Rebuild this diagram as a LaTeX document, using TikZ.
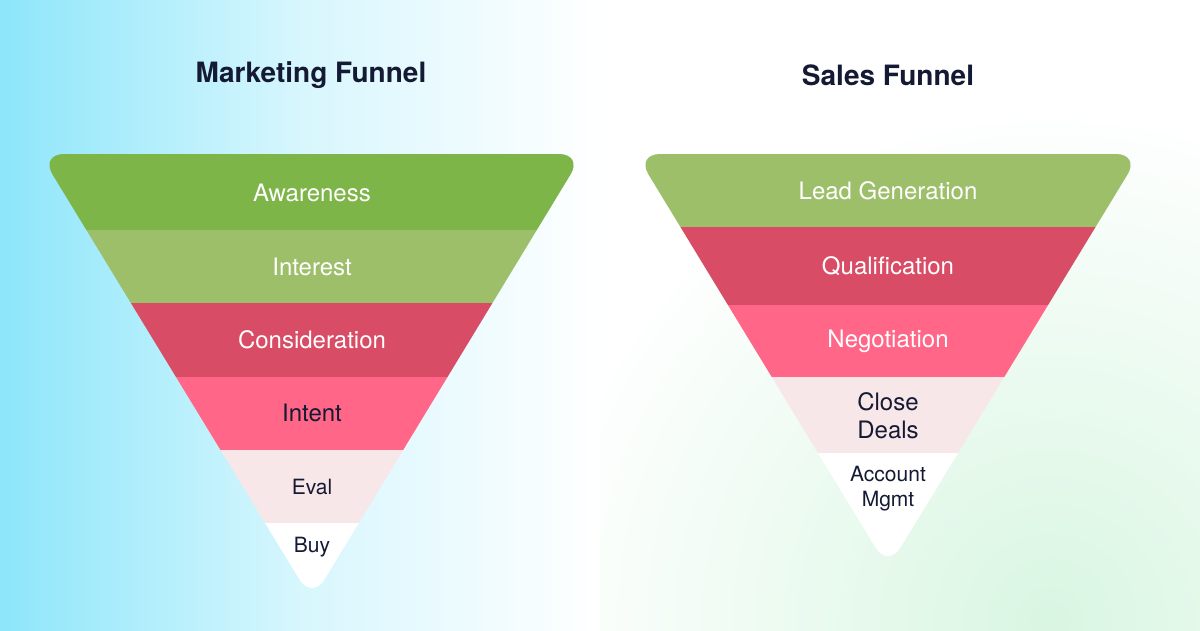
\documentclass[tikz,border=0pt]{standalone}
\usepackage{fontspec}
\setmainfont{TeX Gyre Heros}
\definecolor{dkgreen}{HTML}{7DB548}
\definecolor{ltgreen}{HTML}{9DBF6A}
\definecolor{dkred}{HTML}{D94C66}
\definecolor{pinkc}{HTML}{FF6688}
\definecolor{palec}{HTML}{F8E7E9}
\definecolor{navy}{HTML}{141A33}
\definecolor{skyc}{HTML}{8DE6FA}
\definecolor{mintc}{HTML}{D9F6E2}
\begin{document}
\begin{tikzpicture}[x=1pt,y=-1pt,
  wlab/.style={text=white,font=\fontsize{24}{26}\selectfont},
  dlab/.style={text=navy,font=\fontsize{24}{28}\selectfont},
  slab/.style={text=navy,font=\fontsize{21}{25}\selectfont,align=center},
  ttl/.style={text=navy,font=\bfseries\fontsize{28}{30}\selectfont}]
\useasboundingbox (0,0) rectangle (1200,630);
\fill[white] (0,0) rectangle (1200,630);
\begin{scope}
\clip (600,0) rectangle (1200,630);
\shade[inner color=mintc,outer color=white] (1050,620) circle (520);
\end{scope}
\shade[left color=skyc,right color=white,middle color=white!65!skyc] (0,0) rectangle (600,630);
\node[ttl] (t1) at (311,75) {Marketing Funnel};
\node[ttl] (t2) at (888,75) {Sales Funnel};
% marketing funnel
\begin{scope}
\clip[rounded corners=24pt] (40,154) -- (583,154) -- (312,600) -- cycle;
\fill[dkgreen] (0,150) rectangle (600,230);
\fill[ltgreen] (0,230) rectangle (600,303);
\fill[dkred] (0,303) rectangle (600,377);
\fill[pinkc] (0,377) rectangle (600,450);
\fill[palec] (0,450) rectangle (600,523);
\fill[white] (0,523) rectangle (600,610);
\end{scope}
\node[wlab] (m1) at (312,193) {Awareness};
\node[wlab] (m2) at (312,267) {Interest};
\node[wlab] (m3) at (312,340) {Consideration};
\node[dlab] (m4) at (312,413) {Intent};
\node[slab] (m5) at (312,487) {Eval};
\node[slab] (m6) at (312,547) {Buy};
% sales funnel
\begin{scope}
\clip[rounded corners=24pt] (636,154) -- (1140,154) -- (888,568) -- cycle;
\fill[ltgreen] (600,150) rectangle (1200,227);
\fill[dkred] (600,227) rectangle (1200,305);
\fill[pinkc] (600,305) rectangle (1200,377);
\fill[palec] (600,377) rectangle (1200,453);
\fill[white] (600,453) rectangle (1200,600);
\end{scope}
\node[wlab] (s1) at (888,191) {Lead Generation};
\node[wlab] (s2) at (888,266) {Qualification};
\node[wlab] (s3) at (888,341) {Negotiation};
\node[dlab,align=center] (s4) at (888,416) {Close\\Deals};
\node[slab] (s5) at (888,489) {Account\\Mgmt};
\end{tikzpicture}
\end{document}
